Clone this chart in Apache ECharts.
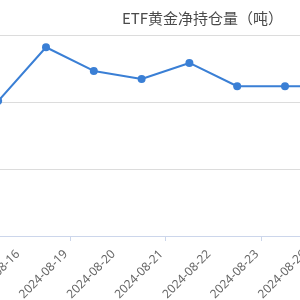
<!DOCTYPE html>
<html>
<head>
<meta charset="utf-8">
<script src="https://cdn.jsdelivr.net/npm/echarts@6/dist/echarts.min.js"></script>
<style>html,body{margin:0;padding:0;background:#fff;}#c{width:300px;height:300px;}</style>
</head>
<body>
<div id="c"></div>
<script>
var titleText = 'ETF黄金净持仓量（吨）';
var categories = ['2024-08-16','2024-08-19','2024-08-20','2024-08-21','2024-08-22','2024-08-23','2024-08-26','2024-08-27'];
var holdings = [850.16, 858.17, 854.63, 853.44, 855.83, 852.35, 852.35, 852.35];
var yTicks = {min: 830, max: 860, interval: 10};

var labelCats = [''].concat(categories);

var chart = echarts.init(document.getElementById('c'), null, {renderer: 'canvas'});
chart.setOption({
  animation: false,
  backgroundColor: '#ffffff',
  title: {
    text: titleText,
    left: 117, top: 6,
    textStyle: {fontSize: 15, fontWeight: 'normal', color: '#4a4a4a', fontFamily: 'Noto Sans CJK SC'}
  },
  grid: {left: -25.7, right: -56.7, top: 35, bottom: 64, containLabel: false, outerBoundsMode: 'none'},
  xAxis: [{
    type: 'category',
    data: categories,
    boundaryGap: true,
    axisLine: {lineStyle: {color: '#ccd6eb', width: 1}},
    axisTick: {show: true, length: 5, lineStyle: {color: '#ccd6eb'}},
    axisLabel: {show: false}
  }, {
    type: 'category',
    data: labelCats,
    boundaryGap: false,
    position: 'bottom',
    axisLine: {show: false},
    axisTick: {show: false},
    axisLabel: {show: true, interval: 0, rotate: 45, margin: 12, padding: [0, 6, 0, 0], color: '#666666', fontSize: 12, fontFamily: 'Noto Sans'}
  }],
  yAxis: {
    type: 'value',
    min: yTicks.min, max: yTicks.max, interval: yTicks.interval,
    axisLine: {show: false}, axisTick: {show: false}, axisLabel: {show: false},
    splitLine: {lineStyle: {color: '#dcdcdc', width: 1}}
  },
  series: [{
    type: 'line',
    xAxisIndex: 0,
    data: holdings,
    symbol: 'circle',
    symbolSize: 8,
    lineStyle: {color: '#3a7fd5', width: 2},
    itemStyle: {color: '#3a7fd5'}
  }]
});
</script>
</body>
</html>
